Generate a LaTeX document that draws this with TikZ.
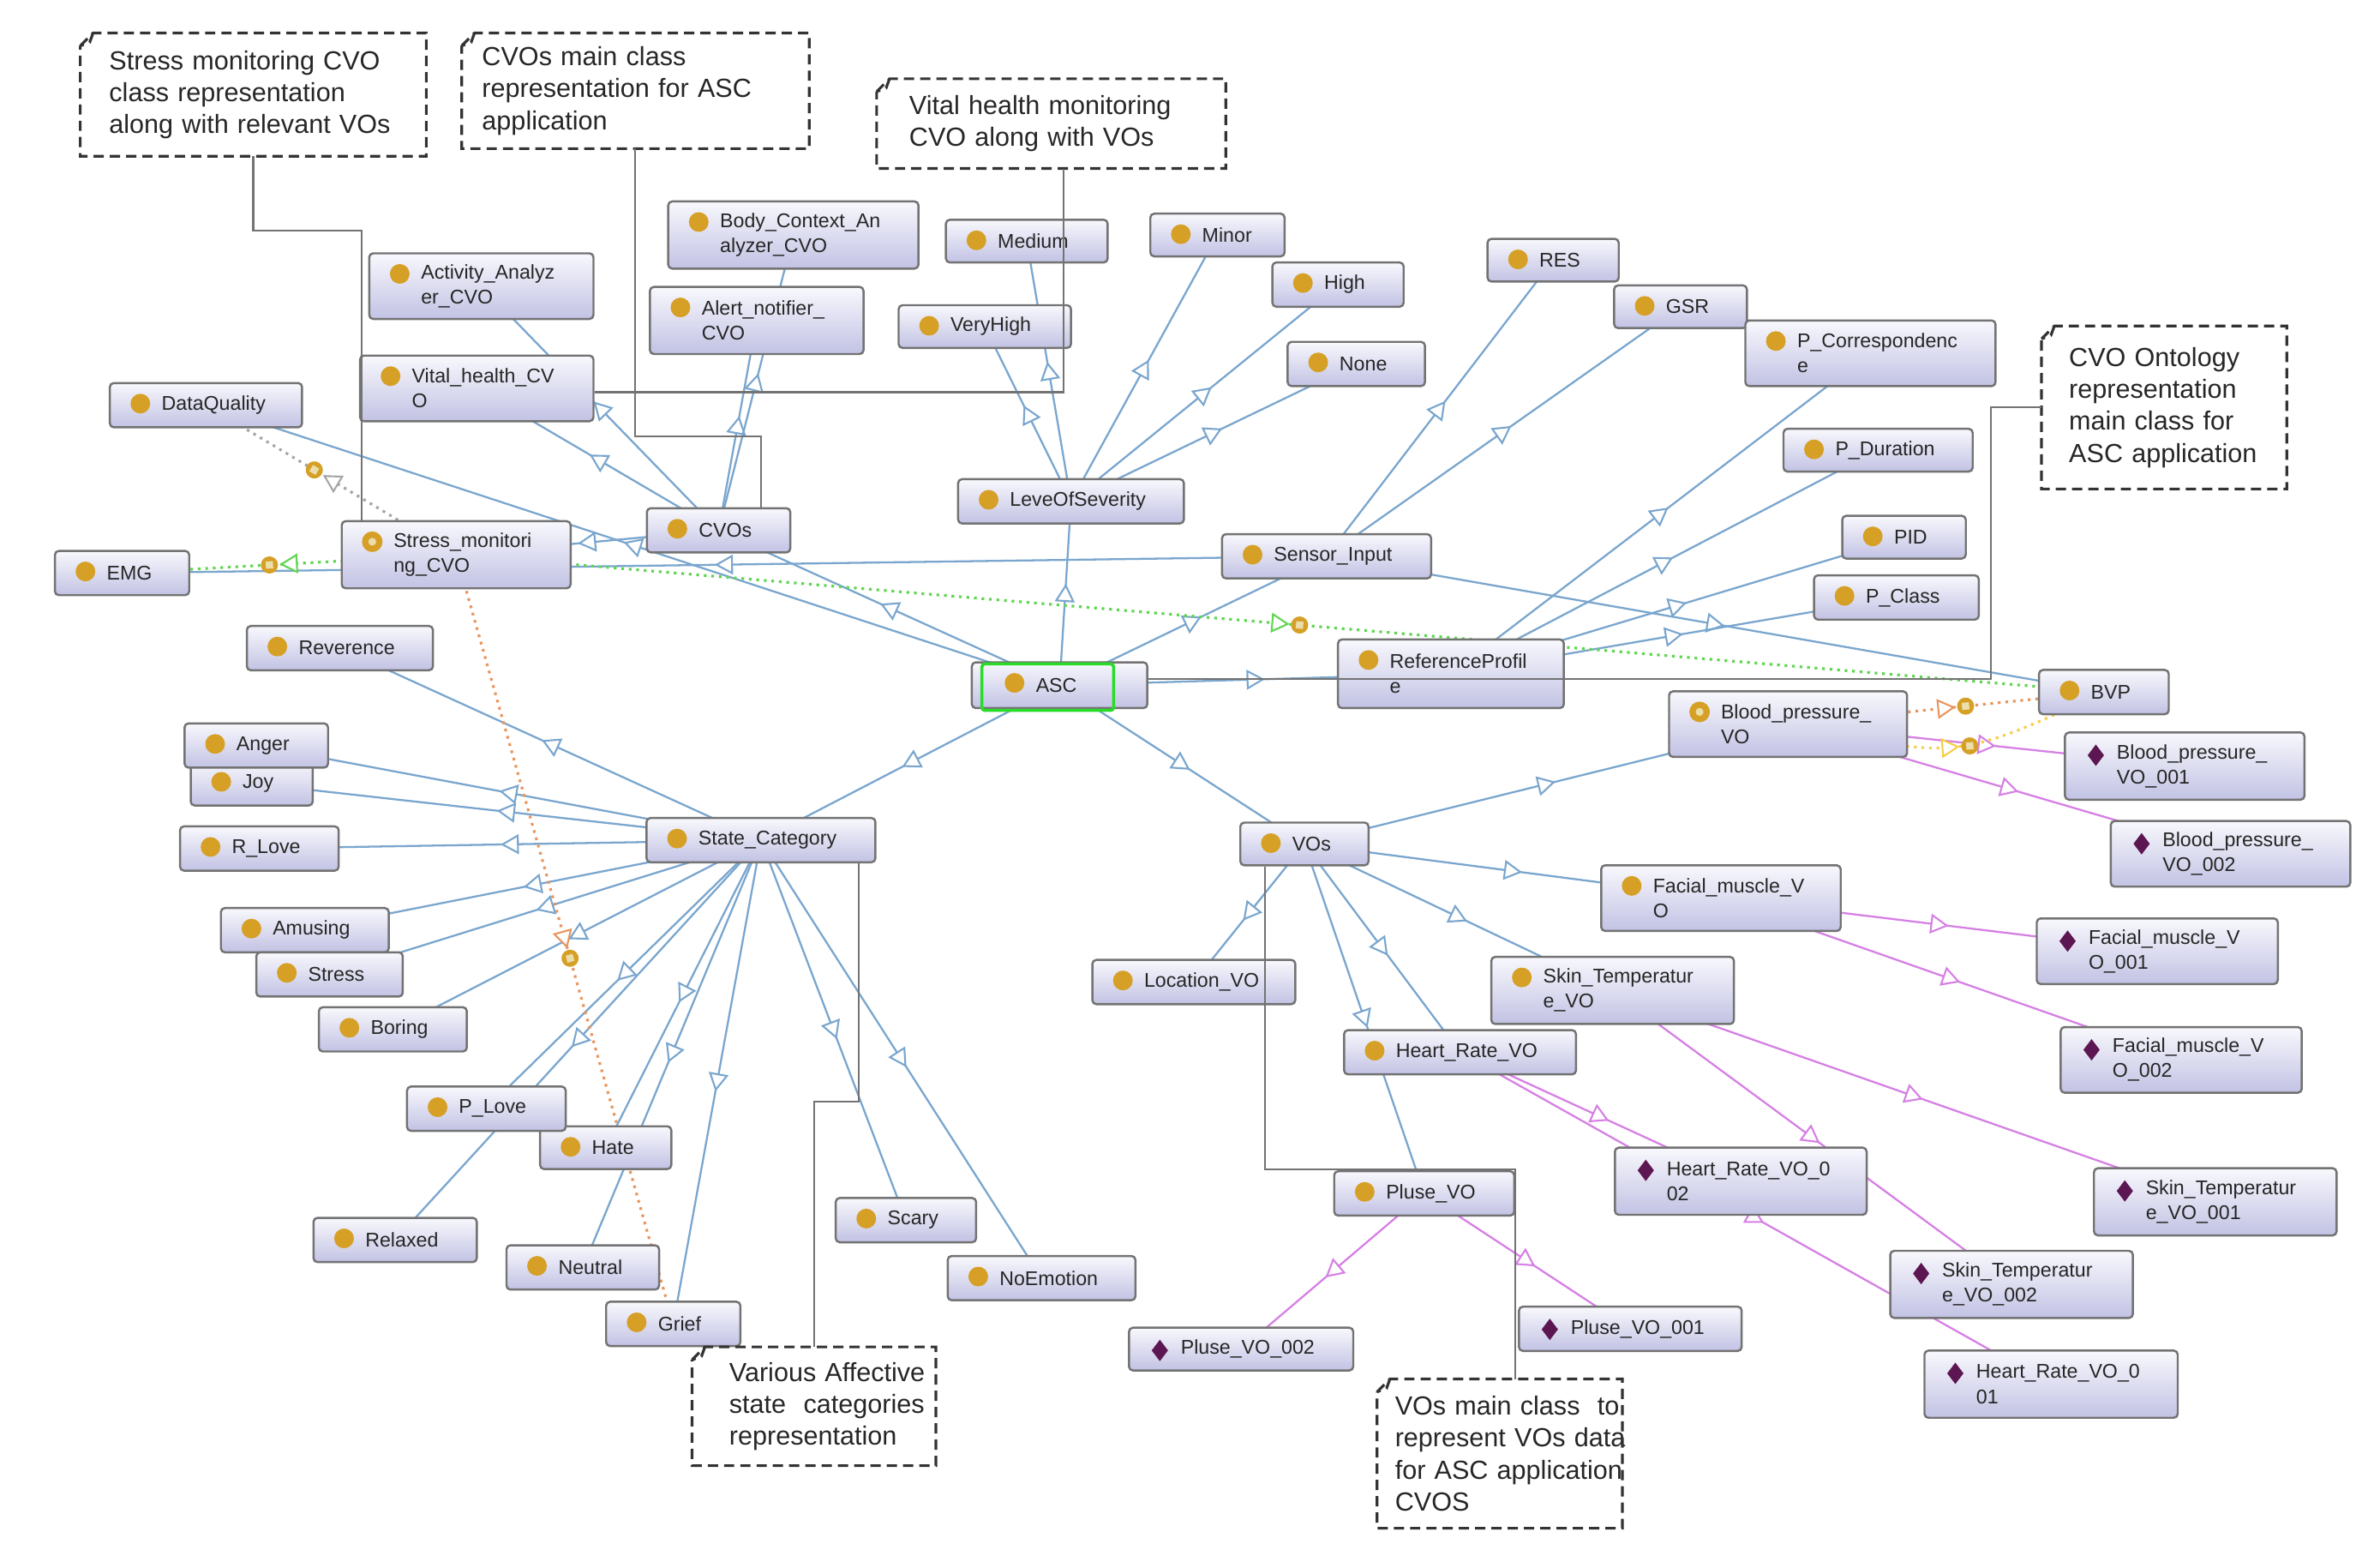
\documentclass[tikz,border=0pt]{standalone}
\usepackage{fontspec}
\setmainfont{Liberation Sans}
\usetikzlibrary{decorations.markings}

\definecolor{edgeblue}{RGB}{122,166,206}
\definecolor{instpink}{RGB}{214,128,228}
\definecolor{propgreen}{RGB}{96,214,80}
\definecolor{proporange}{RGB}{232,150,96}
\definecolor{propyellow}{RGB}{246,206,72}
\definecolor{gold}{RGB}{214,160,38}
\definecolor{cream}{RGB}{236,222,170}
\definecolor{indpurple}{RGB}{92,22,82}
\definecolor{boxtop}{RGB}{248,248,253}
\definecolor{boxbot}{RGB}{194,194,228}
\definecolor{selgreen}{RGB}{40,220,40}

\newcommand{\lblfont}{\fontsize{6.6pt}{8.3pt}\selectfont}
\newcommand{\notefont}{\fontsize{8.7pt}{10.6pt}\selectfont}

\pgfdeclarelayer{bg}
\pgfsetlayers{bg,main}

\tikzset{
  onto/.style={rectangle, rounded corners=1.3pt, draw=black!55, line width=0.7pt,
    top color=boxtop, bottom color=boxbot, text=black!85, font=\lblfont,
    inner sep=0pt, align=left,
    execute at begin node={\hyphenpenalty=10000\leftskip=5.55mm}},
  sz/.style 2 args={minimum width=#1*0.178mm, minimum height=#2*0.178mm,
    text width=#1*0.178mm-1mm},
  cls/.style={onto, path picture={\fill[gold]
    ([xshift=#1, yshift=-2.4mm]path picture bounding box.north west) circle (1.15mm);}},
  cls/.default=3.56mm,
  dcls/.style={onto, path picture={
    \fill[gold] ([xshift=3.56mm, yshift=-2.4mm]path picture bounding box.north west) circle (1.2mm);
    \fill[cream] ([xshift=3.1mm, yshift=-1.94mm]path picture bounding box.north west)
      rectangle ([xshift=4.02mm, yshift=-2.86mm]path picture bounding box.north west);}},
  ind/.style={onto, path picture={\fill[indpurple, sharp corners]
    ([xshift=3.6mm, yshift=-1.4mm]path picture bounding box.north west)
    -- ++(0.95mm,-1.25mm) -- ++(-0.95mm,-1.25mm) -- ++(-0.95mm,1.25mm) -- cycle;}},
  note/.style={rectangle, inner sep=0pt, align=left, font=\notefont, text=black!85,
    execute at begin node={\hyphenpenalty=10000\leftskip=#1}},
  noteframe/.style={draw=black!80, line width=0.9pt, dash pattern=on 3.4pt off 2pt},
  tie/.style={draw=black!55, line width=0.6pt},
  link/.style={draw=#1, line width=0.65pt, postaction={decorate},
    decoration={markings, mark=at position 0.5 with {\draw[#1, solid, fill=white, line width=0.6pt]
      (-0.9mm,-1mm) -- (0.9mm,0) -- (-0.9mm,1mm) -- cycle;}}},
  isa/.style={link=edgeblue},
  inst/.style={link=instpink},
  prop/.style={draw=#1, line width=0.9pt, dash pattern=on 0.9pt off 1.6pt, postaction={decorate},
    decoration={markings, mark=at position 0.5 with {
      \draw[#1, solid, fill=white, line width=0.6pt] (-0.9mm,-1mm) -- (0.9mm,0) -- (-0.9mm,1mm) -- cycle;
      \fill[gold] (2.3mm,0) circle (1mm);
      \fill[cream] (1.88mm,-0.42mm) rectangle (2.72mm,0.42mm);}}}
}

\begin{document}
\begin{tikzpicture}[x=0.178mm, y=-0.178mm]
\useasboundingbox (0,0) rectangle (1560,1023.5);
\begin{pgfonlayer}{bg}
  \fill[white] (0,0) rectangle (1560,1023.5);
\end{pgfonlayer}

% CVO branch
\node[cls, sz={147}{43}] (acta) at (315.5,187.5) {Activity\_Analyz\\er\_CVO};
\node[cls, sz={153}{43}] (vhcvo) at (312.5,254.5) {Vital\_health\_CV\\O};
\node[cls, sz={126}{29}] (dq) at (135,265.5) {DataQuality};
\node[dcls, sz={150}{44}] (smcvo) at (299,363.5) {Stress\_monitori\\ng\_CVO};
\node[cls, sz={88}{29}] (emg) at (80,375.5) {EMG};
\node[cls, sz={164}{44}] (bca) at (520,154) {Body\_Context\_An\\alyzer\_CVO};
\node[cls, sz={140}{44}] (alert) at (496,210) {Alert\_notifier\_\\CVO};
\node[cls, sz={94}{29}] (cvos) at (471,347.5) {CVOs};

% severity levels
\node[cls, sz={106}{28}] (medium) at (673,158) {Medium};
\node[cls, sz={113}{28}] (veryhigh) at (645.5,214) {VeryHigh};
\node[cls, sz={88}{28}] (minor) at (798,154) {Minor};
\node[cls, sz={86}{29}] (high) at (877,186.5) {High};
\node[cls, sz={90}{29}] (none) at (889,238.5) {None};
\node[cls, sz={148}{29}] (lev) at (702,328.5) {LeveOfSeverity};

% sensors and reference profile
\node[cls, sz={86}{28}] (res) at (1018,170.5) {RES};
\node[cls, sz={87}{28}] (gsr) at (1101.5,201) {GSR};
\node[cls, sz={164}{43}] (pcorr) at (1226,231.5) {P\_Correspondenc\\e};
\node[cls, sz={124}{28}] (pdur) at (1231,295) {P\_Duration};
\node[cls, sz={81}{28}] (pid) at (1248,352) {PID};
\node[cls, sz={108}{29}] (pclass) at (1243,391.5) {P\_Class};
\node[cls, sz={137}{29}] (sensor) at (869.5,364.5) {Sensor\_Input};
\node[cls, sz={148}{45}] (refp) at (951,441.5) {ReferenceProfil\\e};
\node[cls, sz={85}{29}] (bvp) at (1379,453.5) {BVP};

% root class
\node[cls=4.98mm, sz={115}{30}] (asc) at (694.5,449) {\hspace*{1.43mm}ASC};
\draw[selgreen, line width=1pt, rounded corners=1pt]
  ([xshift=1.3mm, yshift=-0.3mm]asc.north west) rectangle ([xshift=16.66mm, yshift=-0.15mm]asc.south west);

% VOs
\node[cls, sz={84}{28}] (vos) at (855,553) {VOs};
\node[dcls, sz={156}{43}] (bpvo) at (1172,474.5) {Blood\_pressure\_\\VO};
\node[cls, sz={157}{43}] (fmvo) at (1128,588.5) {Facial\_muscle\_V\\O};
\node[cls, sz={159}{44}] (skvo) at (1057,649) {Skin\_Temperatur\\e\_VO};
\node[cls, sz={133}{29}] (locvo) at (782.5,643.5) {Location\_VO};
\node[cls, sz={152}{29}] (hrvo) at (957,689.5) {Heart\_Rate\_VO};
\node[cls, sz={118}{29}] (plvo) at (933.5,782) {Pluse\_VO};

% individuals
\node[ind, sz={157}{44}] (bp1) at (1432,502) {Blood\_pressure\_\\VO\_001};
\node[ind, sz={157}{43}] (bp2) at (1462,559.5) {Blood\_pressure\_\\VO\_002};
\node[ind, sz={158}{43}] (fm1) at (1414,623.3) {Facial\_muscle\_V\\O\_001};
\node[ind, sz={158}{43}] (fm2) at (1429.7,694.5) {Facial\_muscle\_V\\O\_002};
\node[ind, sz={159}{44}] (sk1) at (1452,787.5) {Skin\_Temperatur\\e\_VO\_001};
\node[ind, sz={159}{44}] (sk2) at (1318.5,841.6) {Skin\_Temperatur\\e\_VO\_002};
\node[ind, sz={166}{44}] (hr1) at (1344.4,907) {Heart\_Rate\_VO\_0\\01};
\node[ind, sz={165}{44}] (hr2) at (1141,774) {Heart\_Rate\_VO\_0\\02};
\node[ind, sz={146}{29}] (pl1) at (1068.6,870.7) {Pluse\_VO\_001};
\node[ind, sz={147}{28}] (pl2) at (813.5,884) {Pluse\_VO\_002};

% affective states
\node[cls, sz={122}{29}] (reverence) at (222.8,424.7) {Reverence};
\node[cls, sz={80}{29}] (joy) at (165,513.3) {Joy};
\node[cls, sz={94}{29}] (anger) at (168,488.5) {Anger};
\node[cls, sz={104}{29}] (rlove) at (170,556) {R\_Love};
\node[cls, sz={110}{29}] (amusing) at (199.8,609.5) {Amusing};
\node[cls, sz={96}{29}] (stress) at (216,638.5) {Stress};
\node[cls, sz={97}{29}] (boring) at (257.5,674.5) {Boring};
\node[cls, sz={86}{28}] (hate) at (397,752) {Hate};
\node[cls, sz={104}{29}] (plove) at (318.8,726.5) {P\_Love};
\node[cls, sz={107}{29}] (relaxed) at (259,812.5) {Relaxed};
\node[cls, sz={100}{29}] (neutral) at (382,830.5) {Neutral};
\node[cls, sz={88}{29}] (grief) at (441.3,867.5) {Grief};
\node[cls, sz={92}{29}] (scary) at (593.8,799.5) {Scary};
\node[cls, sz={123}{29}] (noemo) at (682.7,837.5) {NoEmotion};
\node[cls, sz={150}{29}] (stcat) at (498.8,550.5) {State\_Category};

% notes
\node[note=2.81mm, sz={226}{80}] (a1) at (166,62) {Stress~monitoring~CVO\\class~representation\\along~with~relevant~VOs};
\node[note=1.81mm, sz={227}{75}] (a2) at (416.5,59.5) {CVOs~main~class\\representation~for~ASC\\application};
\node[note=3.24mm, sz={228}{58}] (a3) at (689,81) {Vital~health~monitoring\\CVO~along~with~VOs};
\node[note=2.65mm, sz={160}{106}] (a4) at (1418.5,267) {CVO~Ontology\\representation\\main~class~for\\ASC~application};
\node[note=3.77mm, sz={159}{77}] (a5) at (533.5,921.5) {Various~Affective\\state~~categories\\representation};
\node[note=1.53mm, sz={160}{97}] (a6) at (983,952.5) {VOs~main~class~~to\\represent~VOs~data\\for~ASC~application\\CVOS};
\foreach \n in {a1,a2,a3,a4,a5,a6}
  \draw[noteframe] ([yshift=-1.5mm]\n.north west) -- ([xshift=1.5mm]\n.north west)
    -- (\n.north east) -- (\n.south east) -- (\n.south west) -- cycle
    ([xshift=1.5mm]\n.north west) -- ([xshift=1.1mm, yshift=-1.1mm]\n.north west)
    -- ([yshift=-1.5mm]\n.north west);

% note connectors
\draw[tie] (a1.south) |- (237,151) -- (237,151 |- smcvo.north);
\draw[tie] (a2.south) |- (499,286) -- (499,286 |- cvos.north);
\draw[tie] (a3.south -| 697,0) |- (vhcvo.east |- 0,257);
\draw[tie] (a4.west) -| (1305,445) -- (asc.east |- 0,445);
\draw[tie] (a5.north) |- (563,722) -- (563,722 |- stcat.south);
\draw[tie] (vos.south -| 829,0) |- (993,766) -- (993,766 |- a6.north);

% arcs under the boxes
\begin{pgfonlayer}{bg}
  \foreach \a/\b in {asc/cvos, asc/lev, asc/sensor, asc/refp, asc/vos, asc/stcat, asc/dq,
      cvos/acta, cvos/vhcvo, cvos/alert, cvos/bca, cvos/smcvo,
      lev/medium, lev/veryhigh, lev/minor, lev/high, lev/none,
      sensor/emg, sensor/res, sensor/gsr, sensor/bvp,
      refp/pcorr, refp/pdur, refp/pid, refp/pclass,
      vos/bpvo, vos/fmvo, vos/skvo, vos/hrvo, vos/plvo, vos/locvo,
      stcat/reverence, stcat/anger, stcat/joy, stcat/rlove, stcat/amusing, stcat/stress,
      stcat/boring, stcat/plove, stcat/hate, stcat/relaxed, stcat/neutral, stcat/grief,
      stcat/scary, stcat/noemo}
    \draw[isa] (\a.center) -- (\b.center);
  \foreach \a/\b in {bpvo/bp1, bpvo/bp2, fmvo/fm1, fmvo/fm2, skvo/sk1, skvo/sk2,
      hrvo/hr1, hrvo/hr2, plvo/pl1, plvo/pl2}
    \draw[inst] (\a.center) -- (\b.center);
  \draw[prop=propgreen] (smcvo.center) -- (emg.center);
  \draw[prop=propgreen] (smcvo.center) -- (bvp.center);
  \draw[prop=black!35] (smcvo.center) -- (dq.center);
  \draw[prop=proporange] (smcvo.center) -- (grief.center);
  \draw[prop=proporange] (bpvo.center) -- (bvp.center);
  \draw[prop=propyellow] (bpvo.center) .. controls (1283,498) .. (bvp.center);
\end{pgfonlayer}
\end{tikzpicture}
\end{document}
